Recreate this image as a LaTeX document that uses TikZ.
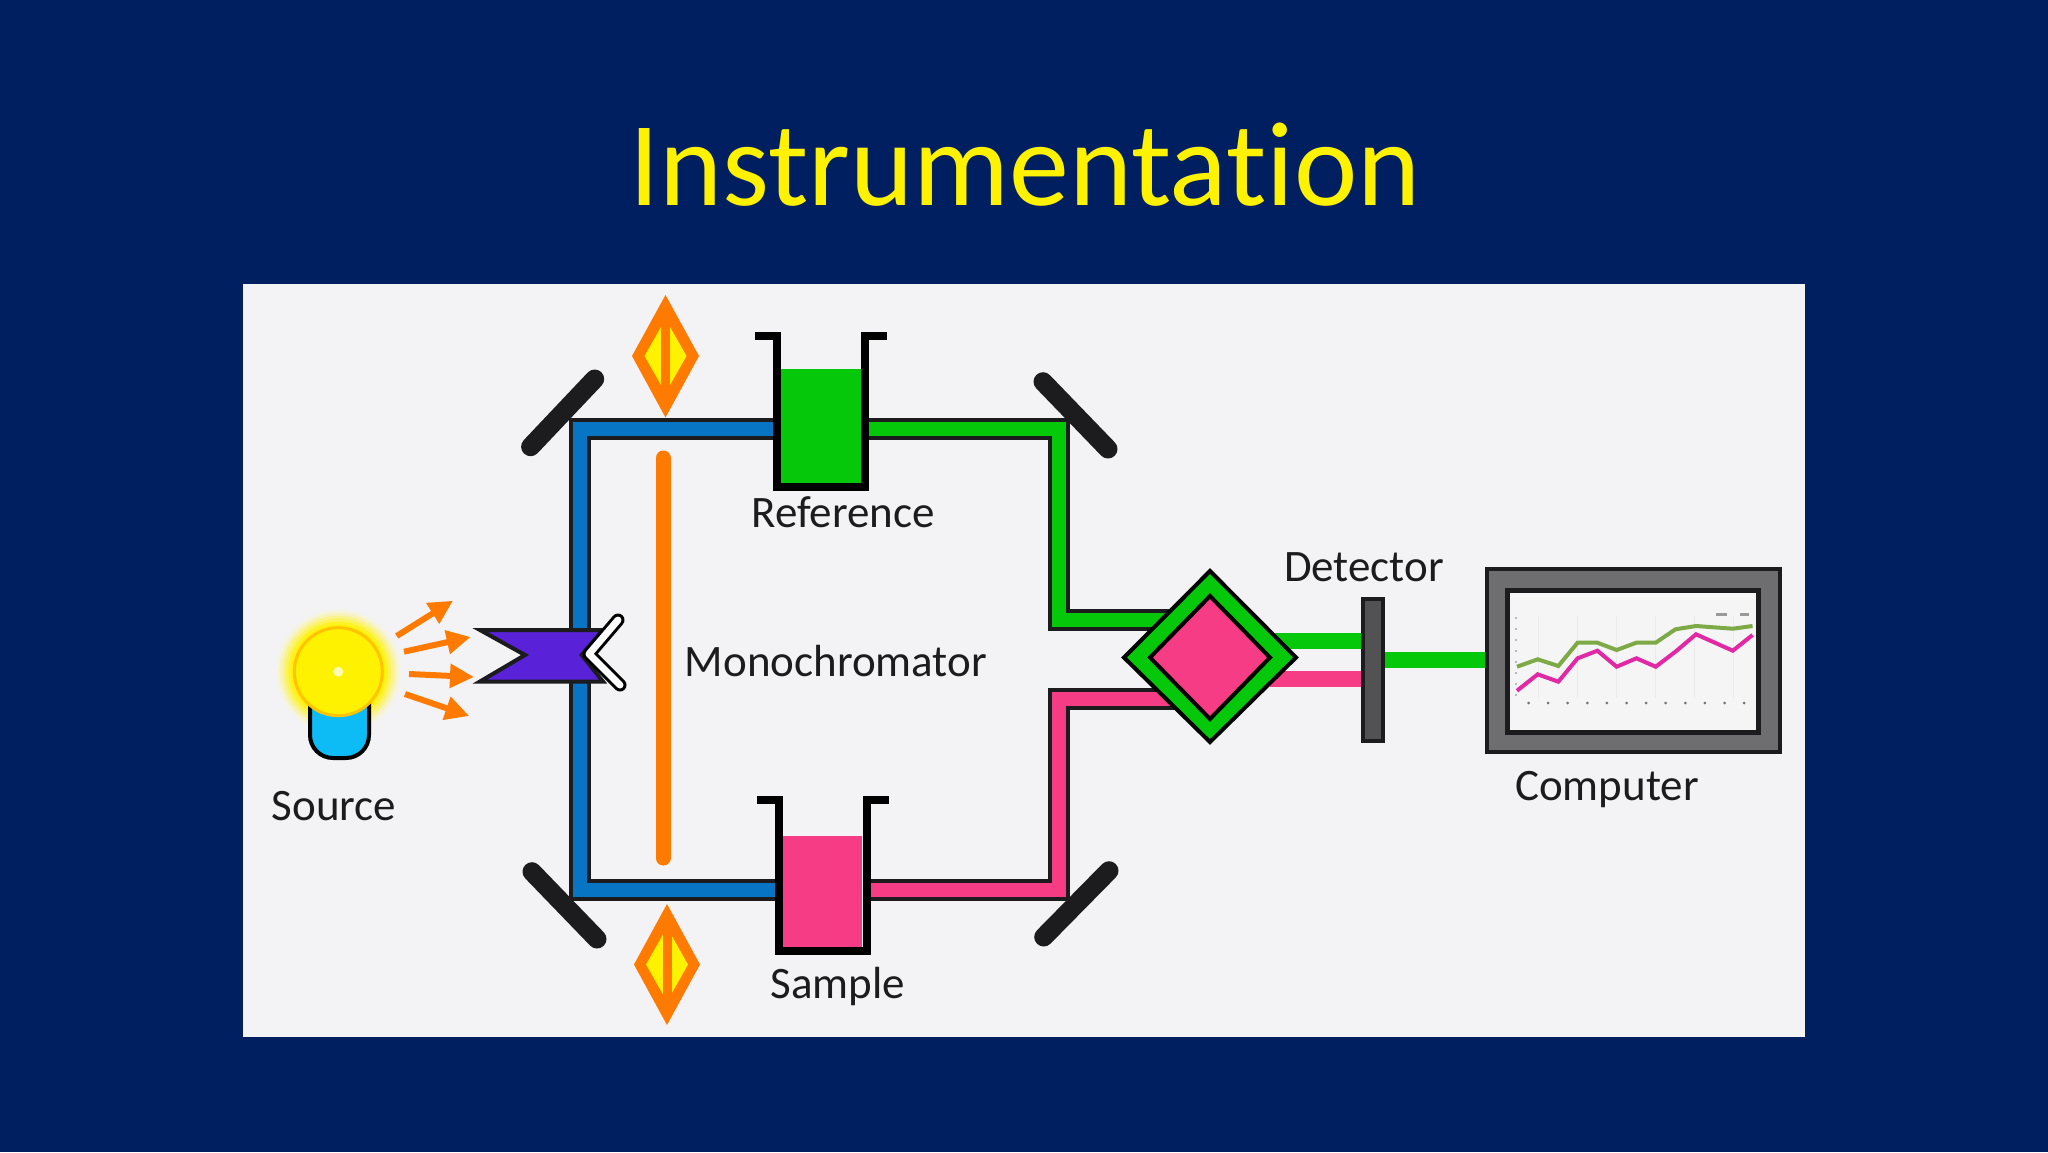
\documentclass[tikz,border=0pt]{standalone}
\usepackage{fontspec}
\usepackage{xcolor}
\usepackage{tikz}
\usetikzlibrary{arrows.meta}
\setmainfont[Ligatures=NoCommon]{Carlito}
\definecolor{navy}{RGB}{0,31,96}
\definecolor{panel}{RGB}{243,243,245}
\definecolor{blue}{RGB}{8,116,196}
\definecolor{green}{RGB}{6,200,10}
\definecolor{pink}{RGB}{245,60,132}
\definecolor{orange}{RGB}{255,122,0}
\definecolor{violet}{RGB}{90,34,216}
\definecolor{sky}{RGB}{14,188,245}
\definecolor{slate}{RGB}{110,110,112}
\definecolor{ink}{RGB}{28,28,30}
\definecolor{plotgreen}{RGB}{125,170,70}
\definecolor{plotpink}{RGB}{225,40,165}
\tikzset{
  beam/.style={draw=ink, line width=4pt, double=#1, double distance=14pt, miter limit=10},
  ray/.style={draw=#1, line width=16pt},
  mirror/.style={draw=ink, line width=19pt, line cap=round},
  beaker/.style={draw=black, line width=8pt, line join=miter},
  lightarrow/.style={draw=orange, line width=6pt, -{Triangle[length=24pt,width=23pt]}},
  caption/.style={font=\fontsize{45}{45}\selectfont, text=ink, inner sep=0pt, anchor=base},
}

\begin{document}
\begin{tikzpicture}[x=1pt, y=-1pt]
    \useasboundingbox (0,0) rectangle (2048,1152);
    \fill[navy] (0,0) rectangle (2048,1152);
    \fill[panel] (243,283.5) rectangle (1805,1037);
    \node[inner sep=0pt, anchor=base, text=yellow, font=\fontsize{120}{120}\selectfont] (title) at (1025,205) {Instrumentation};

    % Light paths
    \draw[beam=blue] (775,428.7) -- (580,428.7) -- (580,890) -- (777,890);
    \draw[beam=green] (865,428.7) -- (1059,428.7) -- (1059,620) -- (1180,620);
    \draw[beam=pink] (867,890) -- (1059,890) -- (1059,699) -- (1180,699);
    \draw[ray=green] (1270,640.5) -- (1363,640.5);
    \draw[ray=pink] (1270,678.5) -- (1363,678.5);
    \draw[ray=green] (1384,660) -- (1486,660);

    % Mirrors
    \draw[mirror] (530.6,446.7) -- (594.7,379);
    \draw[mirror] (1043,381.7) -- (1108,449);
    \draw[mirror] (532,871.7) -- (597,939);
    \draw[mirror] (1109,870.7) -- (1043.7,937);

    % Lamps above and below, and the long bar
    \foreach \cx/\cy/\ytop/\ybot/\halfw in {665.5/356/295/417.5/33.5, 667/964.5/904/1025/33} {
        \fill[orange] (\cx,\ytop) -- (\cx+\halfw,\cy) -- (\cx,\ybot) -- (\cx-\halfw,\cy) -- cycle;
        \fill[yellow] (\cx,\cy-37) -- (\cx+21,\cy) -- (\cx,\cy+37) -- (\cx-21,\cy) -- cycle;
        \fill[orange] (\cx-4.5,\cy-45) rectangle (\cx+4.5,\cy+45);
    }
    \draw[orange, line width=15pt, line cap=round] (663,458) -- (663,858);

    % Source
    \foreach \r/\m in {62/10, 59/25, 56/45, 53/65, 50/85, 47/100} {
        \fill[yellow!\m!panel] (338.3,671.7) circle (\r pt);
    }
    \draw[fill=sky, draw=black, line width=4pt] (310,700) -- (310,735) arc (180:90:23) -- (346,758) arc (90:0:23) -- (369,700);
    \draw[fill=yellow, draw=orange!45!yellow, line width=3pt] (338.3,671.7) circle (44pt);
    \fill[yellow!30!white] (338.3,671.7) circle (5pt);
    \draw[lightarrow] (396.7,636) -- (453,600.7);
    \draw[lightarrow] (404,651.7) -- (470.7,637);
    \draw[lightarrow] (409,674) -- (474,677);
    \draw[lightarrow] (405,694) -- (469.3,716);

    % Entrance piece
    \draw[fill=violet, draw=ink, line width=4pt, line join=miter] (480,630) -- (603,630) -- (581.7,655) -- (603,681.5) -- (480,681.5) -- (525,655) -- cycle;
    \draw[black, line width=13pt, line cap=round, line join=round] (618,620) -- (589,654) -- (620,685);
    \draw[white, line width=7pt, line cap=round, line join=round] (618,620) -- (589,654) -- (620,685);

    % Cells
    \fill[green] (781,369) rectangle (861,484);
    \draw[beaker] (755,336) -- (777,336) -- (777,487) -- (865,487) -- (865,336) -- (887,336);
    \fill[pink] (783,836) rectangle (862,948);
    \draw[beaker] (757,800) -- (779,800) -- (779,951) -- (866.5,951) -- (866.5,800) -- (889,800);

    % Combiner
    \draw[fill=green, draw=black, line width=4pt, line join=miter] (1210,571) -- (1296,657.5) -- (1210,742) -- (1124,657.5) -- cycle;
    \draw[fill=pink, draw=black, line width=4pt, line join=miter] (1210,596) -- (1270,657.5) -- (1210,719) -- (1150,657.5) -- cycle;

    % Detector
    \draw[fill=black!68, draw=ink, line width=4.5pt] (1363,599) rectangle (1383,741);

    % Computer
    \draw[fill=slate, draw=ink, line width=4.5pt] (1487,569) rectangle (1780,752);
    \draw[fill=black!4, draw=ink, line width=5pt] (1507,590) rectangle (1758,732);
    \foreach \i in {0,...,5} {
        \draw[black!8, line width=0.6pt] ({1538+\i*39},616) -- ({1538+\i*39},698);
    }
    \foreach \i in {0,...,11} {
        \fill[black!55] ({1528.5+\i*19.6},703) circle (1.5pt);
    }
    \foreach \i in {0,...,7} {
        \fill[black!35] (1516,{618+\i*11}) circle (1.1pt);
    }
    \fill[black!40] (1716,613) rectangle (1727,616);
    \fill[black!40] (1740,613) rectangle (1749,616);
    \draw[plotgreen, line width=4pt] (1517,666.7) -- (1537.7,659.3) -- (1558.3,666) -- (1577.6,642.7) -- (1597.4,642.7) -- (1616.6,650) -- (1636.4,642.7) -- (1655.7,642.7) -- (1675.4,629.3) -- (1696,626) -- (1732.8,628.7) -- (1752.5,626);
    \draw[plotpink, line width=4pt] (1517,690.7) -- (1537.7,674.3) -- (1558.3,681.7) -- (1577.6,658.3) -- (1597.4,650.7) -- (1616.6,666.7) -- (1636.4,658.3) -- (1655.7,666.7) -- (1675.4,651.7) -- (1696,634.3) -- (1732.8,650.7) -- (1752.5,635);

    % Labels
    \node[caption] (source) at (334,820) {Source};
    \node[caption] (reference) at (843,527) {Reference};
    \node[caption] (monochromator) at (836,676) {Monochromator};
    \node[caption] (sample) at (838,998) {Sample};
    \node[caption] (detector) at (1364,581) {Detector};
    \node[caption] (computer) at (1607,800) {Computer};
\end{tikzpicture}
\end{document}
